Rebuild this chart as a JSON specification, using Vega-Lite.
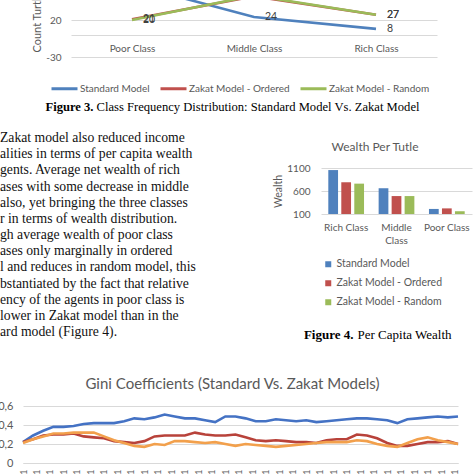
{
  "$schema": "https://vega.github.io/schema/vega-lite/v6.json",
  "width": 474,
  "height": 474,
  "autosize": "none",
  "padding": 0,
  "background": "white",
  "config": {
    "view": {"stroke": null},
    "font": "Lato",
    "axis": {"labelFont": "Lato", "titleFont": "Lato", "labelColor": "#595959", "titleColor": "#595959", "gridColor": "#d9d9d9", "domainColor": "#d9d9d9"},
    "legend": {"labelFont": "Lato", "labelColor": "#595959", "padding": 0}
  },
  "title": {
    "text": "Wealth Per Tutle",
    "anchor": "start",
    "frame": "group",
    "offset": 0,
    "dx": 375,
    "dy": 180,
    "align": "center",
    "baseline": "middle",
    "font": "Lato",
    "fontSize": 12,
    "fontWeight": "normal",
    "color": "#595959"
  },
  "datasets": {
    "classCounts": [
      {"class": "Poor Class", "model": "Standard Model", "count": 68},
      {"class": "Middle Class", "model": "Standard Model", "count": 24},
      {"class": "Rich Class", "model": "Standard Model", "count": 8},
      {"class": "Poor Class", "model": "Zakat Model - Ordered", "count": 21},
      {"class": "Middle Class", "model": "Zakat Model - Ordered", "count": 52},
      {"class": "Rich Class", "model": "Zakat Model - Ordered", "count": 27},
      {"class": "Poor Class", "model": "Zakat Model - Random", "count": 20},
      {"class": "Middle Class", "model": "Zakat Model - Random", "count": 53},
      {"class": "Rich Class", "model": "Zakat Model - Random", "count": 27}
    ],
    "bodyText": [
      {"line": 1, "text": "\u00a0\u00a0\u00a0Zakat model also reduced income"},
      {"line": 2, "text": "alities in terms of per capita wealth"},
      {"line": 3, "text": "gents. Average net wealth of rich"},
      {"line": 4, "text": "ases with some decrease in middle"},
      {"line": 5, "text": "\u00a0\u00a0also, yet bringing the three classes"},
      {"line": 6, "text": "r in terms of wealth distribution."},
      {"line": 7, "text": "gh average wealth of poor class"},
      {"line": 8, "text": "ases only marginally in ordered"},
      {"line": 9, "text": "l and reduces in random model, this"},
      {"line": 10, "text": "bstantiated by the fact that relative"},
      {"line": 11, "text": "ency of the agents in poor class is"},
      {"line": 12, "text": "\u00a0\u00a0lower in Zakat model than in the"},
      {"line": 13, "text": "ard model (Figure 4)."}
    ],
    "wealth": [
      {"class": "Rich Class", "model": "Standard Model", "wealth": 1055},
      {"class": "Rich Class", "model": "Zakat Model - Ordered", "wealth": 790},
      {"class": "Rich Class", "model": "Zakat Model - Random", "wealth": 760},
      {"class": "Middle Class", "model": "Standard Model", "wealth": 660},
      {"class": "Middle Class", "model": "Zakat Model - Ordered", "wealth": 490},
      {"class": "Middle Class", "model": "Zakat Model - Random", "wealth": 490},
      {"class": "Poor Class", "model": "Standard Model", "wealth": 210},
      {"class": "Poor Class", "model": "Zakat Model - Ordered", "wealth": 222},
      {"class": "Poor Class", "model": "Zakat Model - Random", "wealth": 160}
    ],
    "gini": [
      {"t": 1, "model": "Standard Model", "gini": 0.22}, {"t": 31, "model": "Standard Model", "gini": 0.29}, {"t": 61, "model": "Standard Model", "gini": 0.34}, {"t": 91, "model": "Standard Model", "gini": 0.38},
      {"t": 121, "model": "Standard Model", "gini": 0.38}, {"t": 151, "model": "Standard Model", "gini": 0.39}, {"t": 181, "model": "Standard Model", "gini": 0.41}, {"t": 211, "model": "Standard Model", "gini": 0.42},
      {"t": 241, "model": "Standard Model", "gini": 0.42}, {"t": 271, "model": "Standard Model", "gini": 0.42}, {"t": 301, "model": "Standard Model", "gini": 0.44}, {"t": 331, "model": "Standard Model", "gini": 0.47},
      {"t": 361, "model": "Standard Model", "gini": 0.46}, {"t": 391, "model": "Standard Model", "gini": 0.48}, {"t": 421, "model": "Standard Model", "gini": 0.51}, {"t": 451, "model": "Standard Model", "gini": 0.49},
      {"t": 481, "model": "Standard Model", "gini": 0.47}, {"t": 511, "model": "Standard Model", "gini": 0.47}, {"t": 541, "model": "Standard Model", "gini": 0.45}, {"t": 571, "model": "Standard Model", "gini": 0.43},
      {"t": 601, "model": "Standard Model", "gini": 0.49}, {"t": 631, "model": "Standard Model", "gini": 0.49}, {"t": 661, "model": "Standard Model", "gini": 0.47}, {"t": 691, "model": "Standard Model", "gini": 0.44},
      {"t": 721, "model": "Standard Model", "gini": 0.44}, {"t": 751, "model": "Standard Model", "gini": 0.46}, {"t": 781, "model": "Standard Model", "gini": 0.45}, {"t": 811, "model": "Standard Model", "gini": 0.44},
      {"t": 841, "model": "Standard Model", "gini": 0.45}, {"t": 871, "model": "Standard Model", "gini": 0.43}, {"t": 901, "model": "Standard Model", "gini": 0.44}, {"t": 931, "model": "Standard Model", "gini": 0.45},
      {"t": 961, "model": "Standard Model", "gini": 0.46}, {"t": 991, "model": "Standard Model", "gini": 0.47}, {"t": 1021, "model": "Standard Model", "gini": 0.47}, {"t": 1051, "model": "Standard Model", "gini": 0.46},
      {"t": 1081, "model": "Standard Model", "gini": 0.45}, {"t": 1111, "model": "Standard Model", "gini": 0.42}, {"t": 1141, "model": "Standard Model", "gini": 0.46}, {"t": 1171, "model": "Standard Model", "gini": 0.47},
      {"t": 1201, "model": "Standard Model", "gini": 0.48}, {"t": 1231, "model": "Standard Model", "gini": 0.49}, {"t": 1261, "model": "Standard Model", "gini": 0.48}, {"t": 1291, "model": "Standard Model", "gini": 0.49},
      {"t": 1, "model": "Zakat Model - Ordered", "gini": 0.22}, {"t": 31, "model": "Zakat Model - Ordered", "gini": 0.25}, {"t": 61, "model": "Zakat Model - Ordered", "gini": 0.29}, {"t": 91, "model": "Zakat Model - Ordered", "gini": 0.30},
      {"t": 121, "model": "Zakat Model - Ordered", "gini": 0.30}, {"t": 151, "model": "Zakat Model - Ordered", "gini": 0.31}, {"t": 181, "model": "Zakat Model - Ordered", "gini": 0.28}, {"t": 211, "model": "Zakat Model - Ordered", "gini": 0.27},
      {"t": 241, "model": "Zakat Model - Ordered", "gini": 0.26}, {"t": 271, "model": "Zakat Model - Ordered", "gini": 0.23}, {"t": 301, "model": "Zakat Model - Ordered", "gini": 0.22}, {"t": 331, "model": "Zakat Model - Ordered", "gini": 0.21},
      {"t": 361, "model": "Zakat Model - Ordered", "gini": 0.23}, {"t": 391, "model": "Zakat Model - Ordered", "gini": 0.28}, {"t": 421, "model": "Zakat Model - Ordered", "gini": 0.29}, {"t": 451, "model": "Zakat Model - Ordered", "gini": 0.29},
      {"t": 481, "model": "Zakat Model - Ordered", "gini": 0.29}, {"t": 511, "model": "Zakat Model - Ordered", "gini": 0.32}, {"t": 541, "model": "Zakat Model - Ordered", "gini": 0.30}, {"t": 571, "model": "Zakat Model - Ordered", "gini": 0.29},
      {"t": 601, "model": "Zakat Model - Ordered", "gini": 0.29}, {"t": 631, "model": "Zakat Model - Ordered", "gini": 0.30}, {"t": 661, "model": "Zakat Model - Ordered", "gini": 0.27}, {"t": 691, "model": "Zakat Model - Ordered", "gini": 0.24},
      {"t": 721, "model": "Zakat Model - Ordered", "gini": 0.23}, {"t": 751, "model": "Zakat Model - Ordered", "gini": 0.24}, {"t": 781, "model": "Zakat Model - Ordered", "gini": 0.23}, {"t": 811, "model": "Zakat Model - Ordered", "gini": 0.22},
      {"t": 841, "model": "Zakat Model - Ordered", "gini": 0.22}, {"t": 871, "model": "Zakat Model - Ordered", "gini": 0.21}, {"t": 901, "model": "Zakat Model - Ordered", "gini": 0.24}, {"t": 931, "model": "Zakat Model - Ordered", "gini": 0.25},
      {"t": 961, "model": "Zakat Model - Ordered", "gini": 0.25}, {"t": 991, "model": "Zakat Model - Ordered", "gini": 0.30}, {"t": 1021, "model": "Zakat Model - Ordered", "gini": 0.29}, {"t": 1051, "model": "Zakat Model - Ordered", "gini": 0.26},
      {"t": 1081, "model": "Zakat Model - Ordered", "gini": 0.21}, {"t": 1111, "model": "Zakat Model - Ordered", "gini": 0.18}, {"t": 1141, "model": "Zakat Model - Ordered", "gini": 0.18}, {"t": 1171, "model": "Zakat Model - Ordered", "gini": 0.20},
      {"t": 1201, "model": "Zakat Model - Ordered", "gini": 0.22}, {"t": 1231, "model": "Zakat Model - Ordered", "gini": 0.22}, {"t": 1261, "model": "Zakat Model - Ordered", "gini": 0.23}, {"t": 1291, "model": "Zakat Model - Ordered", "gini": 0.20},
      {"t": 1, "model": "Zakat Model - Random", "gini": 0.21}, {"t": 31, "model": "Zakat Model - Random", "gini": 0.25}, {"t": 61, "model": "Zakat Model - Random", "gini": 0.28}, {"t": 91, "model": "Zakat Model - Random", "gini": 0.31},
      {"t": 121, "model": "Zakat Model - Random", "gini": 0.31}, {"t": 151, "model": "Zakat Model - Random", "gini": 0.32}, {"t": 181, "model": "Zakat Model - Random", "gini": 0.32}, {"t": 211, "model": "Zakat Model - Random", "gini": 0.32},
      {"t": 241, "model": "Zakat Model - Random", "gini": 0.28}, {"t": 271, "model": "Zakat Model - Random", "gini": 0.24}, {"t": 301, "model": "Zakat Model - Random", "gini": 0.21}, {"t": 331, "model": "Zakat Model - Random", "gini": 0.18},
      {"t": 361, "model": "Zakat Model - Random", "gini": 0.17}, {"t": 391, "model": "Zakat Model - Random", "gini": 0.20}, {"t": 421, "model": "Zakat Model - Random", "gini": 0.19}, {"t": 451, "model": "Zakat Model - Random", "gini": 0.23},
      {"t": 481, "model": "Zakat Model - Random", "gini": 0.23}, {"t": 511, "model": "Zakat Model - Random", "gini": 0.22}, {"t": 541, "model": "Zakat Model - Random", "gini": 0.21}, {"t": 571, "model": "Zakat Model - Random", "gini": 0.22},
      {"t": 601, "model": "Zakat Model - Random", "gini": 0.20}, {"t": 631, "model": "Zakat Model - Random", "gini": 0.18}, {"t": 661, "model": "Zakat Model - Random", "gini": 0.20}, {"t": 691, "model": "Zakat Model - Random", "gini": 0.19},
      {"t": 721, "model": "Zakat Model - Random", "gini": 0.18}, {"t": 751, "model": "Zakat Model - Random", "gini": 0.17}, {"t": 781, "model": "Zakat Model - Random", "gini": 0.18}, {"t": 811, "model": "Zakat Model - Random", "gini": 0.19},
      {"t": 841, "model": "Zakat Model - Random", "gini": 0.20}, {"t": 871, "model": "Zakat Model - Random", "gini": 0.21}, {"t": 901, "model": "Zakat Model - Random", "gini": 0.22}, {"t": 931, "model": "Zakat Model - Random", "gini": 0.22},
      {"t": 961, "model": "Zakat Model - Random", "gini": 0.22}, {"t": 991, "model": "Zakat Model - Random", "gini": 0.24}, {"t": 1021, "model": "Zakat Model - Random", "gini": 0.23}, {"t": 1051, "model": "Zakat Model - Random", "gini": 0.20},
      {"t": 1081, "model": "Zakat Model - Random", "gini": 0.18}, {"t": 1111, "model": "Zakat Model - Random", "gini": 0.17}, {"t": 1141, "model": "Zakat Model - Random", "gini": 0.21}, {"t": 1171, "model": "Zakat Model - Random", "gini": 0.25},
      {"t": 1201, "model": "Zakat Model - Random", "gini": 0.27}, {"t": 1231, "model": "Zakat Model - Random", "gini": 0.24}, {"t": 1261, "model": "Zakat Model - Random", "gini": 0.22}, {"t": 1291, "model": "Zakat Model - Random", "gini": 0.20}
    ]
  },
  "layer": [
    {
      "data": {"name": "classCounts"},
      "mark": {"type": "line", "strokeWidth": 2.6},
      "encoding": {
        "x": {
          "field": "class", "type": "ordinal",
          "sort": ["Poor Class", "Middle Class", "Rich Class"],
          "scale": {"type": "point", "domain": ["Poor Class", "Middle Class", "Rich Class"], "range": [71, 437], "padding": 0.5},
          "axis": {
            "orient": "bottom", "offset": -439, "domain": true, "ticks": false, "grid": false,
            "labelAngle": 0, "labelPadding": 8, "labelFontSize": 10,
            "title": "Class Frequency Distribution: Standard Model Vs. Zakat Model",
            "titleX": 96, "titleY": 71, "titleAlign": "left", "titleBaseline": "middle",
            "titleFont": "Liberation Serif", "titleFontSize": 12.6, "titleFontWeight": "normal", "titleColor": "#000000"
          }
        },
        "y": {
          "field": "count", "type": "quantitative",
          "scale": {"domain": [-30, 20], "range": [57, 20], "nice": false, "zero": false},
          "axis": {
            "orient": "left", "offset": -71, "values": [-30, 20], "grid": true, "domain": false, "ticks": false,
            "labelPadding": 10, "labelFontSize": 10,
            "labelExpr": "replace(datum.label, '\u2212', '-')",
            "title": "Count Turtles", "titleX": -34, "titleY": 52, "titleAngle": -90,
            "titleAlign": "left", "titleBaseline": "middle", "titleFontSize": 11, "titleFontWeight": "normal"
          }
        },
        "color": {
          "field": "model", "type": "nominal",
          "scale": {"domain": ["Standard Model", "Zakat Model - Ordered", "Zakat Model - Random"], "range": ["#4F81BD", "#C0504D", "#9BBB59"]},
          "legend": {
            "orient": "none", "legendX": 50, "legendY": 74, "direction": "horizontal", "title": null,
            "symbolType": "stroke", "symbolSize": 676, "symbolStrokeWidth": 3, "labelOffset": 1,
            "labelFontSize": 10, "columnPadding": 4
          }
        }
      }
    },
    {
      "data": {"name": "classCounts"},
      "mark": {"type": "text", "align": "left", "dx": 11, "fontSize": 10.5, "color": "#404040"},
      "encoding": {
        "x": {
          "field": "class", "type": "ordinal",
          "scale": {"type": "point", "domain": ["Poor Class", "Middle Class", "Rich Class"], "range": [71, 437], "padding": 0.5},
          "axis": {
            "orient": "bottom", "offset": -439, "labels": false, "domain": false, "ticks": false, "grid": false,
            "title": "Figure 3.", "titleX": 93, "titleY": 71, "titleAlign": "right", "titleBaseline": "middle",
            "titleFont": "Liberation Serif", "titleFontSize": 12.6, "titleFontWeight": "bold", "titleColor": "#000000"
          }
        },
        "y": {
          "field": "count", "type": "quantitative",
          "scale": {"domain": [-30, 20], "range": [57, 20], "nice": false, "zero": false},
          "axis": null
        },
        "text": {"field": "count", "type": "quantitative"}
      }
    },
    {
      "data": {"name": "bodyText"},
      "mark": {"type": "text", "align": "left", "baseline": "middle", "font": "Liberation Serif", "fontSize": 13.7, "color": "#111111"},
      "encoding": {
        "x": {
          "datum": 0, "type": "quantitative",
          "scale": {"domain": [0, 1], "range": [0, 212]},
          "axis": {
            "orient": "bottom", "offset": 0, "labels": false, "domain": false, "ticks": false, "grid": false,
            "title": "Figure 4.", "titleX": 353, "titleY": -140, "titleAlign": "right", "titleBaseline": "middle",
            "titleFont": "Liberation Serif", "titleFontSize": 13, "titleFontWeight": "bold", "titleColor": "#000000"
          }
        },
        "y": {
          "field": "line", "type": "ordinal",
          "scale": {"type": "point", "range": [138, 332], "padding": 0},
          "axis": null
        },
        "text": {"field": "text"}
      }
    },
    {
      "data": {"name": "wealth"},
      "mark": {"type": "bar"},
      "encoding": {
        "x": {
          "field": "class", "type": "nominal", "sort": null,
          "scale": {"domain": ["Rich Class", "Middle Class", "Poor Class"], "range": [321, 472], "paddingInner": 0.29, "paddingOuter": 0.145},
          "axis": {
            "orient": "bottom", "offset": -260, "domain": false, "ticks": false, "grid": false,
            "labelAngle": 0, "labelPadding": 8, "labelFontSize": 10, "labelLineHeight": 13,
            "labelExpr": "datum.label == 'Middle Class' ? ['Middle', 'Class'] : datum.label",
            "title": "Per Capita Wealth", "titleX": 357, "titleY": 120, "titleAlign": "left", "titleBaseline": "middle",
            "titleFont": "Liberation Serif", "titleFontSize": 13, "titleFontWeight": "normal", "titleColor": "#000000"
          }
        },
        "xOffset": {
          "field": "model", "type": "nominal",
          "scale": {"domain": ["Standard Model", "Zakat Model - Ordered", "Zakat Model - Random"], "paddingInner": 0.25}
        },
        "y": {
          "field": "wealth", "type": "quantitative",
          "scale": {"domain": [100, 1100], "range": [214, 168], "nice": false, "zero": false},
          "axis": {
            "orient": "left", "offset": -318, "values": [100, 600, 1100], "format": "d", "grid": true, "domain": false, "ticks": false,
            "labelPadding": 8, "labelFontSize": 10,
            "title": "Wealth", "titleX": -40, "titleY": 191, "titleAngle": -90,
            "titleAlign": "center", "titleBaseline": "middle", "titleFontSize": 10.5, "titleFontWeight": "normal"
          }
        },
        "y2": {"datum": 100},
        "color": {
          "field": "model", "type": "nominal",
          "scale": {"domain": ["Standard Model", "Zakat Model - Ordered", "Zakat Model - Random"], "range": ["#4F81BD", "#C0504D", "#9BBB59"]},
          "legend": {
            "orient": "none", "legendX": 323, "legendY": 259, "direction": "vertical", "title": null,
            "symbolType": "square", "symbolSize": 36, "labelOffset": 3, "labelFontSize": 10.5, "rowPadding": 8
          }
        }
      }
    },
    {
      "data": {"name": "gini"},
      "mark": {"type": "line", "strokeWidth": 2.6},
      "encoding": {
        "x": {
          "field": "t", "type": "quantitative",
          "scale": {"domain": [1, 1291], "range": [23, 458], "nice": false, "zero": false},
          "axis": {
            "orient": "bottom", "offset": -11, "domain": true, "ticks": false, "grid": false,
            "values": [1, 41, 81, 121, 161, 201, 241, 281, 321, 361, 401, 441, 481, 521, 561, 601, 641, 681, 721, 761, 801, 841, 881, 921, 961, 1001, 1041, 1081, 1121, 1161, 1201, 1241, 1281],
            "labelAngle": -90, "labelPadding": 6, "labelFontSize": 9, "labelOverlap": false,
            "title": "Gini Coefficients (Standard Vs. Zakat Models)", "titleX": 232, "titleY": -80,
            "titleAlign": "center", "titleBaseline": "middle", "titleFontSize": 15, "titleFontWeight": "normal"
          }
        },
        "y": {
          "field": "gini", "type": "quantitative",
          "scale": {"domain": [0, 0.6], "range": [463, 406], "nice": false, "zero": false},
          "axis": {
            "orient": "left", "offset": -22, "values": [0, 0.2, 0.4, 0.6], "grid": true, "domain": false, "ticks": false,
            "labelPadding": 9, "labelFontSize": 11,
            "labelExpr": "datum.value == 0 ? '0' : replace(format(datum.value, '.1f'), '.', ',')",
            "title": null
          }
        },
        "color": {
          "field": "model", "type": "nominal",
          "scale": {"domain": ["Standard Model", "Zakat Model - Ordered", "Zakat Model - Random"], "range": ["#4472C4", "#B8423A", "#F2A04C"]},
          "legend": null
        }
      }
    }
  ],
  "resolve": {
    "scale": {"x": "independent", "y": "independent", "color": "independent", "xOffset": "independent"},
    "axis": {"x": "independent", "y": "independent"},
    "legend": {"color": "independent"}
  }
}
